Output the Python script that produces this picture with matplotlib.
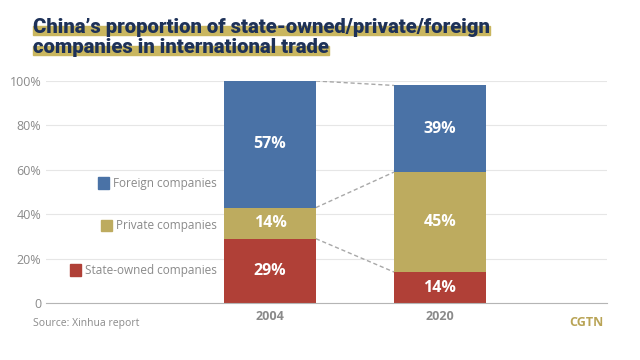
import matplotlib
matplotlib.use("Agg")
import matplotlib.pyplot as plt
from matplotlib.patches import Rectangle

years = ["2004", "2020"]
state_owned = [29, 14]
private = [14, 45]
foreign = [57, 39]
series_names = ["State-owned companies", "Private companies", "Foreign companies"]
y_ticks = [0, 20, 40, 60, 80, 100]
y_tick_labels = ["0", "20%", "40%", "60%", "80%", "100%"]

colors = ["#b04037", "#bdab5f", "#4a72a6"]
grey = "#8a8a8a"
navy = "#1d3158"

plt.rcParams["font.family"] = ["Open Sans", "DejaVu Sans"]

fig = plt.figure(figsize=(6.4, 3.6), dpi=100)
ax = fig.add_axes([0.072, 0.158, 0.876, 0.617])

x = [0, 1]
width = 0.54
series = [state_owned, private, foreign]
bottoms = [0, 0]
tops = []
for vals, col in zip(series, colors):
    ax.bar(x, vals, width=width, bottom=bottoms, color=col, zorder=3)
    for xi, v, b in zip(x, vals, bottoms):
        ax.text(xi, b + v / 2, f"{v}%", ha="center", va="center", color="white",
                fontsize=11.5, fontweight="bold", zorder=4)
    bottoms = [b + v for b, v in zip(bottoms, vals)]
    tops.append(list(bottoms))

# dashed connectors between the bars (top of each segment)
for y0, y1 in tops:
    ax.plot([x[0] + width / 2, x[1] - width / 2], [y0, y1], ls=(0, (3, 2)),
            color="#a8a8a8", lw=1, zorder=2)

ax.set_xlim(-1.318, 1.982)
ax.set_ylim(0, 100)
ax.set_yticks(y_ticks)
ax.set_yticklabels(y_tick_labels)
ax.set_xticks(x)
ax.set_xticklabels(years, fontweight="bold")
ax.tick_params(axis="both", length=0, colors=grey, labelsize=9)
ax.tick_params(axis="x", pad=5)
ax.grid(axis="y", color="#e6e6e6", lw=0.8, zorder=0)
for s in ["top", "right", "left"]:
    ax.spines[s].set_visible(False)
ax.spines["bottom"].set_color("#b5b5b5")
ax.spines["bottom"].set_zorder(5)

fig.canvas.draw()
renderer = fig.canvas.get_renderer()

# legend labels on the left, square just before each label
legend_y = [0.149, 0.35, 0.54]
for ly, name, col in zip(legend_y, series_names, colors):
    t = ax.text(0.305, ly, name, transform=ax.transAxes, ha="right", va="center",
                color=grey, fontsize=8.5)
    bb = t.get_window_extent(renderer).transformed(ax.transAxes.inverted())
    ax.add_patch(Rectangle((bb.x0 - 0.028, ly - 0.026), 0.02, 0.052,
                           transform=ax.transAxes, color=col, clip_on=False))

# title with highlight band
title_lines = ["China\u2019s proportion of state-owned/private/foreign",
               "companies in international trade"]
title_y = [0.908, 0.853]
for line, ty in zip(title_lines, title_y):
    t = fig.text(0.052, ty, line, fontsize=14.6, fontweight="heavy", color=navy,
                 family=["Roboto", "DejaVu Sans"], va="baseline", zorder=3)
    bb = t.get_window_extent(renderer).transformed(fig.transFigure.inverted())
    fig.patches.append(Rectangle((bb.x0, ty - 0.006), bb.width, 0.026,
                                 transform=fig.transFigure, color="#c9b65f", zorder=1))

fig.text(0.052, 0.095, "Source: Xinhua report", color=grey, fontsize=7.5)
fig.text(0.89, 0.095, "CGTN", color="#b9a456", fontsize=9, fontweight="bold")

fig.savefig("out.png", dpi=100)
